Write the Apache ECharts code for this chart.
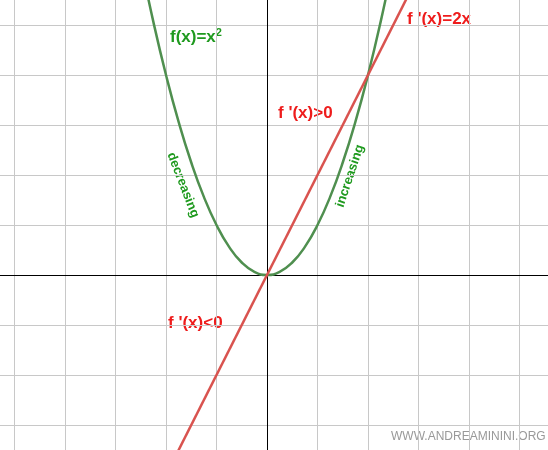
<!DOCTYPE html>
<html><head><meta charset="utf-8">
<script src="https://cdn.jsdelivr.net/npm/echarts@6/dist/echarts.min.js"></script>
<style>html,body{margin:0;padding:0;background:#fff}#main{width:548px;height:450px}</style>
</head><body><div id="main"></div>
<script>
// punti della parabola f(x)=x^2
const parabolaX = [-2.5,-2.25,-2,-1.75,-1.5,-1.25,-1,-0.75,-0.5,-0.25,0,0.25,0.5,0.75,1,1.25,1.5,1.75,2,2.25,2.5]
const parabolaY = [6.25,5.0625,4,3.0625,2.25,1.5625,1,0.5625,0.25,0.0625,0,0.0625,0.25,0.5625,1,1.5625,2.25,3.0625,4,5.0625,6.25]
// retta f'(x)=2x
const derivX = [-4, 4]
const derivY = [-8, 8]
const xTicks = [-5,-4,-3,-2,-1,0,1,2,3,4,5]
const yTicks = [-3,-2,-1,1,2,3,4,5]

const green = '#4f8f4f', red = '#d9534f', gtext = '#1f9a1f', rtext = '#ee1c1c'
const myChart = echarts.init(document.getElementById('main'))
const minor = { show: true, lineStyle: { color: '#ececec', width: 1 } }
option = {
    animation: false,
    grid: { left: -36, right: -22, top: -25, bottom: -25, containLabel: false, outerBoundsMode: 'none' },
    xAxis: [{
        type: 'value', min: -6, max: 6, interval: 1, z: 3,
        axisLine: { onZero: true, onZeroAxisIndex: 0, lineStyle: { color: '#000', width: 1 } },
        axisTick: { show: false },
        splitLine: { lineStyle: { color: '#c8c8c8' } },
        axisLabel: { margin: 8, color: '#333', fontSize: 12,
            formatter: v => xTicks.indexOf(v) < 0 ? '' : (v === 0 ? '{o|0}' : (v < 0 ? '\u2212' + (-v) : '' + v)),
            rich: { o: { padding: [0, 18, 0, 0], fontSize: 12, color: '#333' } } }
    }, {
        type: 'value', min: -6, max: 6, interval: 0.25, show: false, splitLine: minor
    }],
    yAxis: [{
        type: 'value', min: -4, max: 6, interval: 1, z: 3,
        axisLine: { onZero: true, onZeroAxisIndex: 0, lineStyle: { color: '#000', width: 1 } },
        axisTick: { show: false },
        splitLine: { lineStyle: { color: '#c8c8c8' } },
        axisLabel: { margin: 8, color: '#333', fontSize: 12,
            formatter: v => yTicks.indexOf(v) < 0 ? '' : (v < 0 ? '\u2212' + (-v) : '' + v) }
    }, {
        type: 'value', min: -4, max: 6, interval: 0.25, show: false, splitLine: minor
    }],
    series: [{
        type: 'line', data: parabolaX.map((x, i) => [x, parabolaY[i]]), smooth: true,
        showSymbol: false, lineStyle: { color: green, width: 2.5 }, z: 5
    }, {
        type: 'line', data: derivX.map((x, i) => [x, derivY[i]]),
        showSymbol: false, lineStyle: { color: red, width: 2.5 }, z: 6
    }],
    graphic: [
        { type: 'text', left: 170, top: 27, style: { rich: { a: { fill: gtext, font: 'bold 17px Arial' }, s: { fill: gtext, font: 'bold 11px Arial', padding: [0, 0, 10, 0] } }, text: '{a|f(x)=x}{s|2}' } },
        { type: 'text', x: 183, y: 185, rotation: -1.2, style: { text: 'decreasing', fill: gtext, font: 'bold 13px Arial', align: 'center', verticalAlign: 'middle' } },
        { type: 'text', x: 350, y: 176, rotation: 1.25, style: { text: 'increasing', fill: gtext, font: 'bold 13px Arial', align: 'center', verticalAlign: 'middle' } },
        { type: 'text', left: 407, top: 11, style: { text: "f '(x)=2x", fill: rtext, font: 'bold 17px Arial' } },
        { type: 'text', left: 278, top: 105, style: { text: "f '(x)>0", fill: rtext, font: 'bold 17px Arial' } },
        { type: 'text', left: 168, top: 315, style: { text: "f '(x)<0", fill: rtext, font: 'bold 17px Arial' } },
        { type: 'text', left: 391, top: 431, style: { text: 'WWW.ANDREAMININI.ORG', fill: '#999', font: '12px Arial' } }
    ]
}
myChart.setOption(option)
</script></body></html>
